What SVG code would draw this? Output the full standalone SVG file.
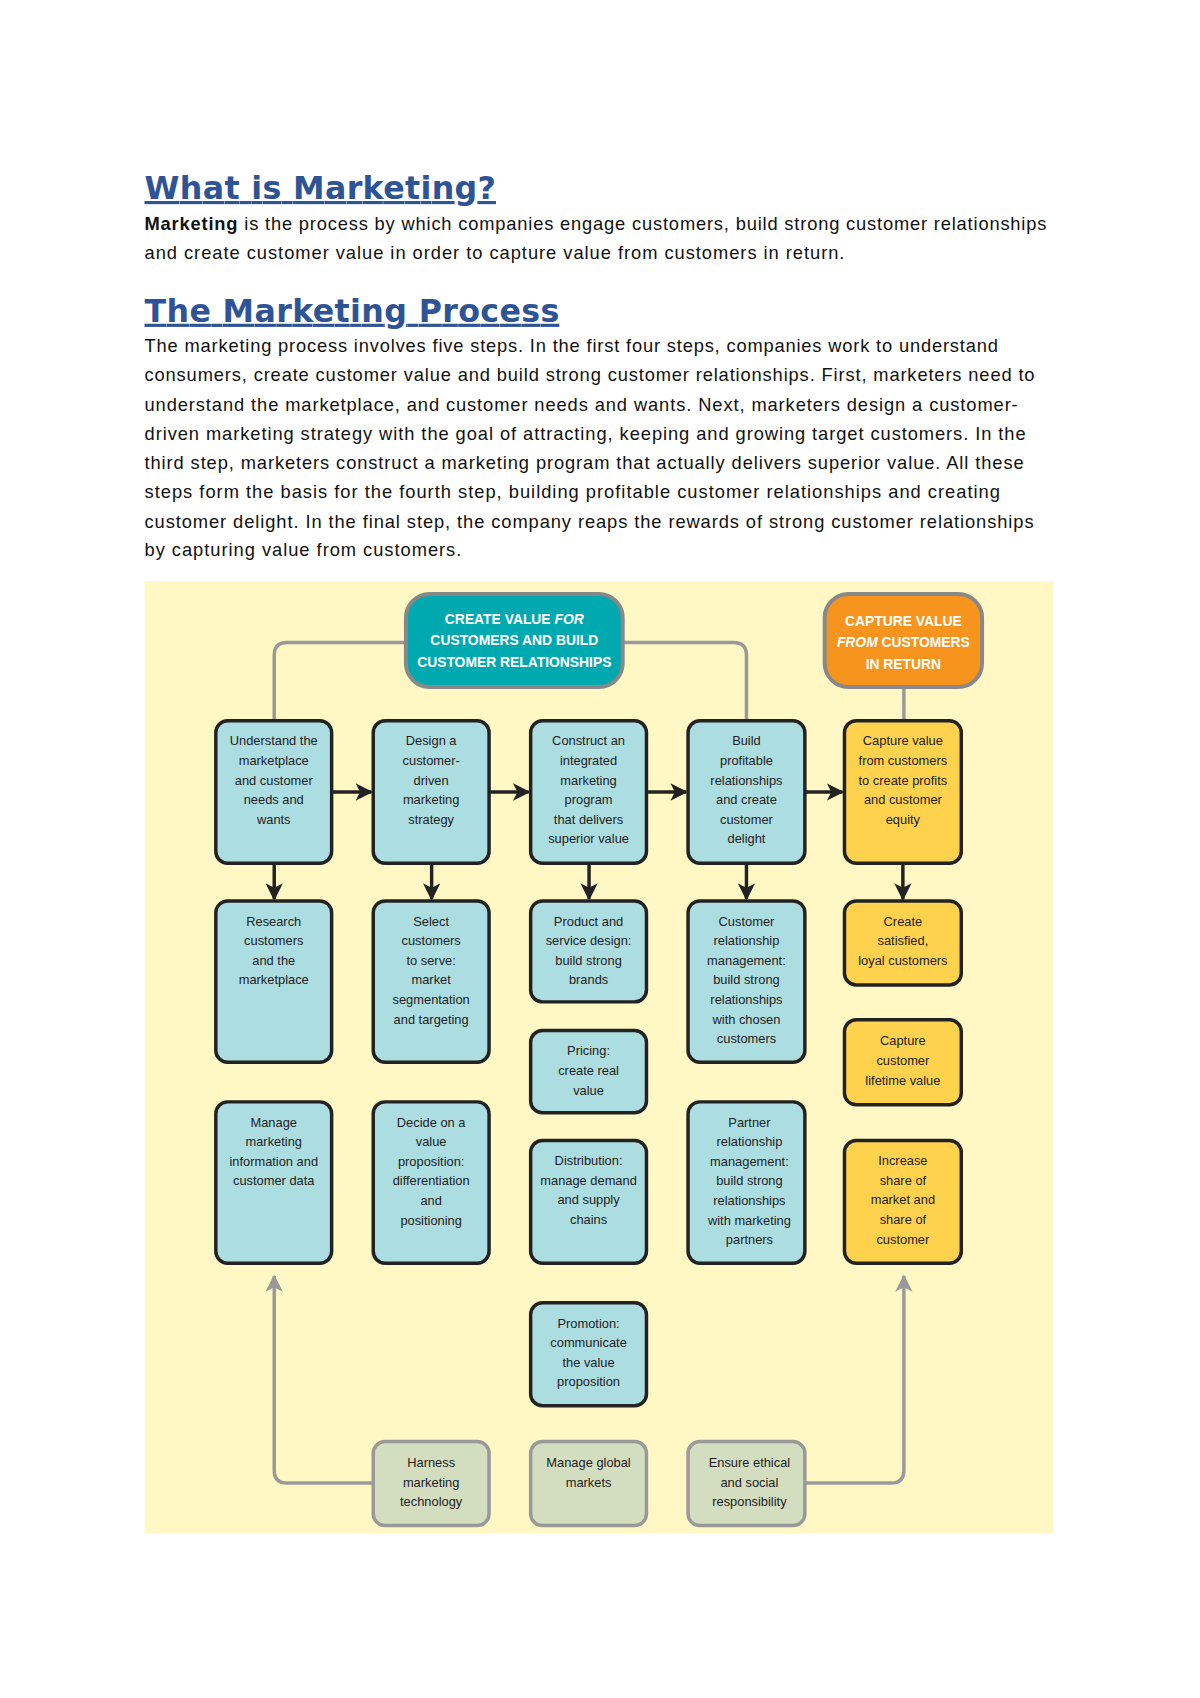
<svg xmlns="http://www.w3.org/2000/svg" width="1200" height="1698" viewBox="0 0 1200 1698">
<style>
.h{font-family:"DejaVu Sans",sans-serif;font-weight:bold;font-size:32px;fill:#2F5496;text-decoration:underline}
.p{font-family:"Liberation Sans",Arial,sans-serif;font-size:18.5px;fill:#111}
.n{font-family:"Liberation Sans",Arial,sans-serif;font-size:13px;fill:#222;text-anchor:middle}
.hd{font-family:"Liberation Sans",Arial,sans-serif;font-size:14px;font-weight:bold;fill:#fff;text-anchor:middle}
.b{fill:#ACDDE1;stroke:#222;stroke-width:3.5}
.o{fill:#FFD24E;stroke:#222;stroke-width:3.5}
.g{fill:#D3DDBF;stroke:#999;stroke-width:3.5}
.gl{fill:none;stroke:#999;stroke-width:3.5}
.bl{fill:none;stroke:#222;stroke-width:3.5}
</style>
<defs>
<marker id="ab" viewBox="0 0 10 10" refX="9" refY="5" markerWidth="5" markerHeight="5" orient="auto"><path d="M0,0L10,5L0,10L2.5,5z" fill="#222"/></marker>
<marker id="ag" viewBox="0 0 10 10" refX="9" refY="5" markerWidth="5" markerHeight="5" orient="auto"><path d="M0,0L10,5L0,10L2.5,5z" fill="#999"/></marker>
</defs>
<rect width="1200" height="1698" fill="#fff"/>
<g transform="scale(0.99)">
<text class="h" x="146" y="201" textLength="355">What is Marketing?</text>
<text class="p" x="146" y="232" textLength="911"><tspan font-weight="bold">Marketing</tspan> is the process by which companies engage customers, build strong customer relationships</text>
<text class="p" x="146" y="262" textLength="707">and create customer value in order to capture value from customers in return.</text>
<text class="h" x="146" y="325" textLength="419">The Marketing Process</text>
<g class="p">
<text x="146" y="356" textLength="862">The marketing process involves five steps. In the first four steps, companies work to understand</text>
<text x="146" y="385" textLength="899">consumers, create customer value and build strong customer relationships. First, marketers need to</text>
<text x="146" y="415" textLength="882">understand the marketplace, and customer needs and wants. Next, marketers design a customer-</text>
<text x="146" y="444" textLength="890">driven marketing strategy with the goal of attracting, keeping and growing target customers. In the</text>
<text x="146" y="474" textLength="888">third step, marketers construct a marketing program that actually delivers superior value. All these</text>
<text x="146" y="503" textLength="864">steps form the basis for the fourth step, building profitable customer relationships and creating</text>
<text x="146" y="533" textLength="898">customer delight. In the final step, the company reaps the rewards of strong customer relationships</text>
<text x="146" y="562" textLength="320">by capturing value from customers.</text>
</g>
<rect x="146" y="587" width="918" height="962" fill="#FFF8C4"/>
<g id="connectors">
<path class="gl" d="M277,728V662Q277,649,290,649H410"/>
<path class="gl" d="M629,649H741Q754,649,754,662V728"/>
<path class="gl" d="M913,694V728"/>
<path class="bl" marker-end="url(#ab)" d="M335,800H375"/>
<path class="bl" marker-end="url(#ab)" d="M494,800H534"/>
<path class="bl" marker-end="url(#ab)" d="M653,800H693"/>
<path class="bl" marker-end="url(#ab)" d="M813,800H851"/>
<path class="bl" marker-end="url(#ab)" d="M277,872V908"/>
<path class="bl" marker-end="url(#ab)" d="M436,872V908"/>
<path class="bl" marker-end="url(#ab)" d="M595,872V908"/>
<path class="bl" marker-end="url(#ab)" d="M754,872V908"/>
<path class="bl" marker-end="url(#ab)" d="M912,872V908"/>
<path class="gl" marker-end="url(#ag)" d="M377,1498H290Q277,1498,277,1485V1289"/>
<path class="gl" marker-end="url(#ag)" d="M813,1498H900Q913,1498,913,1485V1289"/>
</g>
<g id="hdr1"><rect x="410" y="600" width="219" height="94" rx="24" fill="#00A9B0" stroke="#888" stroke-width="4"/>
<text class="hd" y="630"><tspan x="519.5">CREATE VALUE <tspan font-style="italic">FOR</tspan></tspan><tspan x="519.5" dy="22">CUSTOMERS AND BUILD</tspan><tspan x="519.5" dy="22">CUSTOMER RELATIONSHIPS</tspan></text></g>
<g id="hdr2"><rect x="833" y="600" width="159" height="94" rx="24" fill="#F7941D" stroke="#888" stroke-width="4"/>
<text class="hd" y="632"><tspan x="912.5">CAPTURE VALUE</tspan><tspan x="912.5" dy="22" font-style="italic">FROM <tspan font-style="normal">CUSTOMERS</tspan></tspan><tspan x="912.5" dy="22">IN RETURN</tspan></text></g>

<g id="n11"><rect class="b" x="218" y="728" width="117" height="144" rx="12"/><text class="n" y="753"><tspan x="276.5">Understand the</tspan><tspan x="276.5" dy="19.8">marketplace</tspan><tspan x="276.5" dy="19.8">and customer</tspan><tspan x="276.5" dy="19.8">needs and</tspan><tspan x="276.5" dy="19.8">wants</tspan></text></g>
<g id="n12"><rect class="b" x="377" y="728" width="117" height="144" rx="12"/><text class="n" y="753"><tspan x="435.5">Design a</tspan><tspan x="435.5" dy="19.8">customer-</tspan><tspan x="435.5" dy="19.8">driven</tspan><tspan x="435.5" dy="19.8">marketing</tspan><tspan x="435.5" dy="19.8">strategy</tspan></text></g>
<g id="n13"><rect class="b" x="536" y="728" width="117" height="144" rx="12"/><text class="n" y="753"><tspan x="594.5">Construct an</tspan><tspan x="594.5" dy="19.8">integrated</tspan><tspan x="594.5" dy="19.8">marketing</tspan><tspan x="594.5" dy="19.8">program</tspan><tspan x="594.5" dy="19.8">that delivers</tspan><tspan x="594.5" dy="19.8">superior value</tspan></text></g>
<g id="n14"><rect class="b" x="695" y="728" width="118" height="144" rx="12"/><text class="n" y="753"><tspan x="754">Build</tspan><tspan x="754" dy="19.8">profitable</tspan><tspan x="754" dy="19.8">relationships</tspan><tspan x="754" dy="19.8">and create</tspan><tspan x="754" dy="19.8">customer</tspan><tspan x="754" dy="19.8">delight</tspan></text></g>
<g id="n15"><rect class="o" x="853" y="728" width="118" height="144" rx="12"/><text class="n" y="753"><tspan x="912">Capture value</tspan><tspan x="912" dy="19.8">from customers</tspan><tspan x="912" dy="19.8">to create profits</tspan><tspan x="912" dy="19.8">and customer</tspan><tspan x="912" dy="19.8">equity</tspan></text></g>

<g id="n21"><rect class="b" x="218" y="910" width="117" height="163" rx="12"/><text class="n" y="935"><tspan x="276.5">Research</tspan><tspan x="276.5" dy="19.8">customers</tspan><tspan x="276.5" dy="19.8">and the</tspan><tspan x="276.5" dy="19.8">marketplace</tspan></text></g>
<g id="n22"><rect class="b" x="377" y="910" width="117" height="163" rx="12"/><text class="n" y="935"><tspan x="435.5">Select</tspan><tspan x="435.5" dy="19.8">customers</tspan><tspan x="435.5" dy="19.8">to serve:</tspan><tspan x="435.5" dy="19.8">market</tspan><tspan x="435.5" dy="19.8">segmentation</tspan><tspan x="435.5" dy="19.8">and targeting</tspan></text></g>
<g id="n23"><rect class="b" x="536" y="910" width="117" height="102" rx="12"/><text class="n" y="935"><tspan x="594.5">Product and</tspan><tspan x="594.5" dy="19.8">service design:</tspan><tspan x="594.5" dy="19.8">build strong</tspan><tspan x="594.5" dy="19.8">brands</tspan></text></g>
<g id="n24"><rect class="b" x="695" y="910" width="118" height="163" rx="12"/><text class="n" y="935"><tspan x="754">Customer</tspan><tspan x="754" dy="19.8">relationship</tspan><tspan x="754" dy="19.8">management:</tspan><tspan x="754" dy="19.8">build strong</tspan><tspan x="754" dy="19.8">relationships</tspan><tspan x="754" dy="19.8">with chosen</tspan><tspan x="754" dy="19.8">customers</tspan></text></g>
<g id="n25"><rect class="o" x="853" y="910" width="118" height="85" rx="12"/><text class="n" y="935"><tspan x="912">Create</tspan><tspan x="912" dy="19.8">satisfied,</tspan><tspan x="912" dy="19.8">loyal customers</tspan></text></g>

<g id="n33a"><rect class="b" x="536" y="1041" width="117" height="83" rx="12"/><text class="n" y="1066"><tspan x="594.5">Pricing:</tspan><tspan x="594.5" dy="19.8">create real</tspan><tspan x="594.5" dy="19.8">value</tspan></text></g>
<g id="n35a"><rect class="o" x="853" y="1030" width="118" height="86" rx="12"/><text class="n" y="1056"><tspan x="912">Capture</tspan><tspan x="912" dy="19.8">customer</tspan><tspan x="912" dy="19.8">lifetime value</tspan></text></g>

<g id="n31"><rect class="b" x="218" y="1113" width="117" height="163" rx="12"/><text class="n" y="1138"><tspan x="276.5">Manage</tspan><tspan x="276.5" dy="19.8">marketing</tspan><tspan x="276.5" dy="19.8">information and</tspan><tspan x="276.5" dy="19.8">customer data</tspan></text></g>
<g id="n32"><rect class="b" x="377" y="1113" width="117" height="163" rx="12"/><text class="n" y="1138"><tspan x="435.5">Decide on a</tspan><tspan x="435.5" dy="19.8">value</tspan><tspan x="435.5" dy="19.8">proposition:</tspan><tspan x="435.5" dy="19.8">differentiation</tspan><tspan x="435.5" dy="19.8">and</tspan><tspan x="435.5" dy="19.8">positioning</tspan></text></g>
<g id="n33"><rect class="b" x="536" y="1152" width="117" height="124" rx="12"/><text class="n" y="1177"><tspan x="594.5">Distribution:</tspan><tspan x="594.5" dy="19.8">manage demand</tspan><tspan x="594.5" dy="19.8">and supply</tspan><tspan x="594.5" dy="19.8">chains</tspan></text></g>
<g id="n34"><rect class="b" x="695" y="1113" width="118" height="163" rx="12"/><text class="n" y="1138"><tspan x="757">Partner</tspan><tspan x="757" dy="19.8">relationship</tspan><tspan x="757" dy="19.8">management:</tspan><tspan x="757" dy="19.8">build strong</tspan><tspan x="757" dy="19.8">relationships</tspan><tspan x="757" dy="19.8">with marketing</tspan><tspan x="757" dy="19.8">partners</tspan></text></g>
<g id="n35"><rect class="o" x="853" y="1152" width="118" height="124" rx="12"/><text class="n" y="1177"><tspan x="912">Increase</tspan><tspan x="912" dy="19.8">share of</tspan><tspan x="912" dy="19.8">market and</tspan><tspan x="912" dy="19.8">share of</tspan><tspan x="912" dy="19.8">customer</tspan></text></g>

<g id="n43"><rect class="b" x="536" y="1316" width="117" height="104" rx="12"/><text class="n" y="1341"><tspan x="594.5">Promotion:</tspan><tspan x="594.5" dy="19.8">communicate</tspan><tspan x="594.5" dy="19.8">the value</tspan><tspan x="594.5" dy="19.8">proposition</tspan></text></g>

<g id="g1"><rect class="g" x="377" y="1456" width="117" height="85" rx="12"/><text class="n" y="1482"><tspan x="435.5">Harness</tspan><tspan x="435.5" dy="19.8">marketing</tspan><tspan x="435.5" dy="19.8">technology</tspan></text></g>
<g id="g2"><rect class="g" x="536" y="1456" width="117" height="85" rx="12"/><text class="n" y="1482"><tspan x="594.5">Manage global</tspan><tspan x="594.5" dy="19.8">markets</tspan></text></g>
<g id="g3"><rect class="g" x="695" y="1456" width="118" height="85" rx="12"/><text class="n" y="1482"><tspan x="757">Ensure ethical</tspan><tspan x="757" dy="19.8">and social</tspan><tspan x="757" dy="19.8">responsibility</tspan></text></g>
</g>
</svg>
